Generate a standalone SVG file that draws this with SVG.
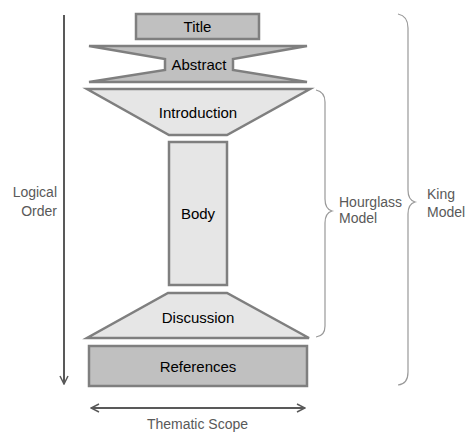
<svg xmlns="http://www.w3.org/2000/svg" width="474" height="439" viewBox="0 0 474 439">
<style>
.dark{fill:#c0c0c0;stroke:#7f7f7f;stroke-width:2.5}
.light{fill:#e6e6e6;stroke:#7f7f7f;stroke-width:2.5}
.lbl{font-family:"Liberation Sans",Arial,sans-serif;font-size:15px;fill:#000;text-anchor:middle}
.side{font-family:"Liberation Sans",Arial,sans-serif;font-size:14px;fill:#595959}
.ln{fill:none;stroke:#595959;stroke-width:2}
.br{fill:none;stroke:#999;stroke-width:1.2}
</style>
<defs>
<marker id="ah" viewBox="0 0 10 10" refX="9" refY="5" markerWidth="5" markerHeight="5" orient="auto-start-reverse" markerUnits="strokeWidth">
<path d="M1,1 L9,5 L1,9" fill="none" stroke="#595959" stroke-width="1.5"/>
</marker>
</defs>
<rect width="474" height="439" fill="#fff"/>
<g id="title"><rect class="dark" x="136" y="14" width="123" height="25"/><text class="lbl" x="197.5" y="32">Title</text></g>
<g id="abstract"><polygon class="dark" points="89,46 307,46 233,59 233,70 307,82 89,82 165,70 165,59"/><text class="lbl" x="199" y="70">Abstract</text></g>
<g id="introduction"><polygon class="light" points="87,89 310,89 227,135 169,135"/><text class="lbl" x="198" y="118">Introduction</text></g>
<g id="body"><rect class="light" x="169" y="142" width="58" height="143"/><text class="lbl" x="198" y="219">Body</text></g>
<g id="discussion"><polygon class="light" points="168,293 227,293 309,338 87,338"/><text class="lbl" x="198" y="323">Discussion</text></g>
<g id="references"><rect class="dark" x="89" y="346" width="218" height="40"/><text class="lbl" x="198" y="372">References</text></g>
<g id="connectors">
<line class="ln" x1="64" y1="15" x2="64" y2="384" marker-end="url(#ah)"/>
<line class="ln" x1="91" y1="408" x2="305" y2="408" marker-start="url(#ah)" marker-end="url(#ah)"/>
<path class="br" d="M316,90 Q325,92 325,102 L325,199 Q325,209 332,211 Q325,213 325,223 L325,326 Q325,336 316,337"/>
<path class="br" d="M398,14 Q408,16 408,28 L408,190 Q408,200 415,202 Q408,204 408,214 L408,372 Q408,384 398,385"/>
</g>
<text class="side" x="57" y="197" text-anchor="end">Logical</text>
<text class="side" x="57" y="216" text-anchor="end">Order</text>
<text class="side" x="339" y="207">Hourglass</text>
<text class="side" x="339" y="223">Model</text>
<text class="side" x="427" y="199">King</text>
<text class="side" x="427" y="217">Model</text>
<text class="side" x="197.5" y="429" text-anchor="middle">Thematic Scope</text>
</svg>
